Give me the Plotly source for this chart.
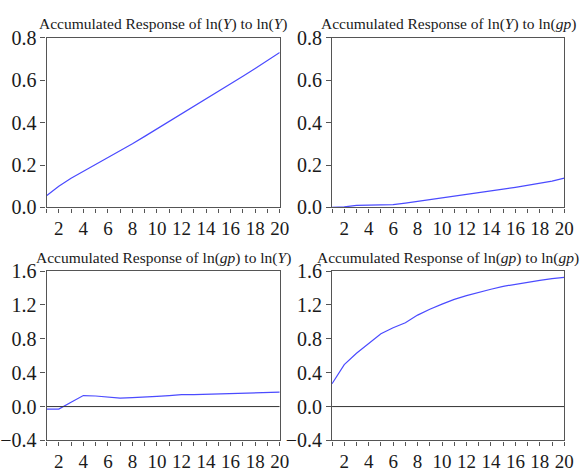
import plotly.graph_objects as go

#%% data
periods = list(range(1, 21))

resp_y_y = [0.055, 0.10, 0.138, 0.17, 0.20, 0.232, 0.265, 0.30, 0.335, 0.37,
            0.405, 0.44, 0.475, 0.51, 0.546, 0.582, 0.618, 0.655, 0.692, 0.73]
resp_y_gp = [0.0, 0.003, 0.010, 0.011, 0.011, 0.013, 0.020, 0.028, 0.035, 0.043,
             0.051, 0.060, 0.068, 0.077, 0.086, 0.095, 0.104, 0.114, 0.124, 0.138]
resp_gp_y = [-0.03, -0.03, 0.05, 0.13, 0.125, 0.11, 0.10, 0.105, 0.11, 0.12,
             0.13, 0.14, 0.14, 0.145, 0.15, 0.155, 0.16, 0.165, 0.17, 0.17]
resp_gp_gp = [0.27, 0.495, 0.63, 0.75, 0.86, 0.93, 0.99, 1.08, 1.15, 1.21,
              1.265, 1.31, 1.35, 1.385, 1.42, 1.445, 1.47, 1.49, 1.51, 1.525]

titles = ["Accumulated Response of ln(<i>Y</i>) to ln(<i>Y</i>)",
          "Accumulated Response of ln(<i>Y</i>) to ln(<i>gp</i>)",
          "Accumulated Response of ln(<i>gp</i>) to ln(<i>Y</i>)",
          "Accumulated Response of ln(<i>gp</i>) to ln(<i>gp</i>)"]

x_tickvals = periods
x_ticktext = [str(p) if p % 2 == 0 else "" for p in periods]

top_yticks = [0.0, 0.2, 0.4, 0.6, 0.8]
bot_yticks = [-0.4, 0.0, 0.4, 0.8, 1.2, 1.6]

#%% figure
W, H = 586, 475
fig = go.Figure()

# panel boxes in pixels (left, right, top, bottom)
boxes = [(44.5, 283, 28, 206), (336.5, 574, 28, 206),
         (44.5, 283, 272.7, 450.3), (336.5, 574, 272.7, 450.3)]
series = [resp_y_y, resp_y_gp, resp_gp_y, resp_gp_gp]

font_serif = "Liberation Serif, Times New Roman, serif"
axis_col = "#555555"

for i, (box, vals) in enumerate(zip(boxes, series)):
    l, r, t, b = box
    n = "" if i == 0 else str(i + 1)
    xa, ya = "xaxis" + n, "yaxis" + n
    fig.add_trace(go.Scatter(x=periods, y=vals, mode="lines",
                             line=dict(color="#4b4bff", width=1.2),
                             xaxis="x" + n, yaxis="y" + n, showlegend=False))

    if i < 2:
        yr, yt = [0, 0.8], top_yticks
    else:
        yr, yt = [-0.4, 1.6], bot_yticks
        # ligne du zéro
        fig.add_trace(go.Scatter(x=[1, 20], y=[0, 0], mode="lines",
                                 line=dict(color="#333333", width=1),
                                 xaxis="x" + n, yaxis="y" + n, showlegend=False))

    fig.update_layout({
        xa: dict(domain=[l / W, r / W], range=[1, 20], anchor="y" + n,
                 tickvals=x_tickvals, ticktext=x_ticktext,
                 ticks="outside", ticklen=4, tickcolor=axis_col,
                 showgrid=False, zeroline=False, showline=True, mirror=True,
                 linecolor=axis_col, linewidth=1.2,
                 tickfont=dict(family=font_serif, size=19, color="#1a1a1a")),
        ya: dict(domain=[1 - b / H, 1 - t / H], range=yr, anchor="x" + n,
                 tickvals=yt, tickformat=".1f",
                 ticks="outside", ticklen=5, tickcolor=axis_col,
                 showgrid=False, zeroline=False, showline=True, mirror=True,
                 linecolor=axis_col, linewidth=1.2,
                 tickfont=dict(family=font_serif, size=20, color="#1a1a1a")),
    })

    fig.add_annotation(text=titles[i], xref="paper", yref="paper",
                       x=(l + r) / 2 / W, y=1 - (t - 14) / H,
                       xanchor="center", yanchor="middle", showarrow=False,
                       font=dict(family=font_serif, size=15.5, color="#1a1a1a"))

fig.update_layout(width=W, height=H, margin=dict(l=0, r=0, t=0, b=0),
                  plot_bgcolor="white", paper_bgcolor="white")

# pas de marge du body pour coller la figure en haut à gauche
fig.write_html("out.html", config={"displayModeBar": False},
               post_script="document.body.style.margin='0';")
